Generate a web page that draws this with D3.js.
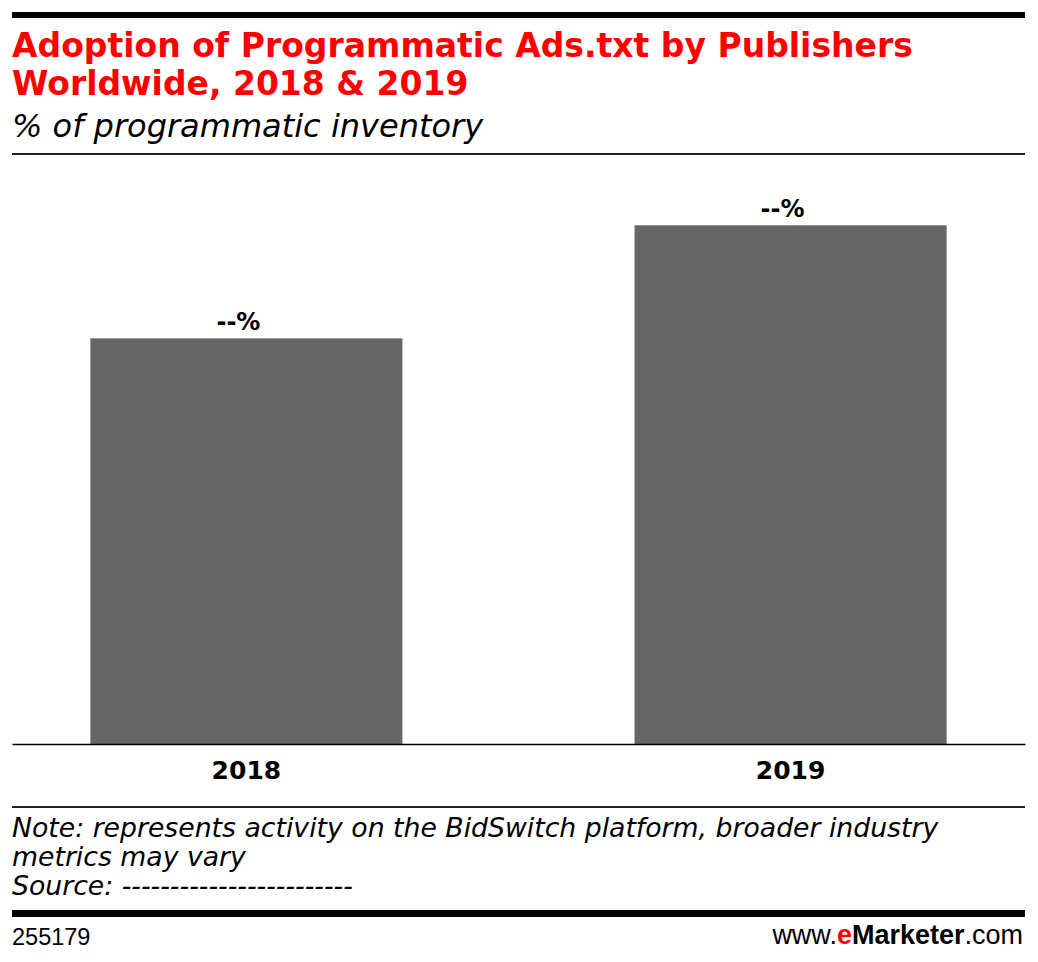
<!DOCTYPE html>
<html>
<head>
    <script src="https://d3js.org/d3.v7.min.js"></script>
    <style>
        body { margin: 0; background: #fff; }
        text { font-family: "DejaVu Sans", sans-serif; }
        .lib { font-family: "Liberation Sans", Arial, sans-serif; }
    </style>
</head>
<body>
    <script>
        const years = ['2018', '2019'];
        const shares = [61, 78];
        const valueLabels = ['--%', '--%'];

        const width = 1038, height = 962;
        const left = 12, right = 1025;
        const baseY = 744;

        const svg = d3.select("body").append("svg")
            .attr("width", width)
            .attr("height", height);

        // header rules
        svg.append("rect").attr("x", left).attr("y", 12).attr("width", right - left).attr("height", 6).attr("fill", "#000");
        svg.append("rect").attr("x", left).attr("y", 153).attr("width", right - left).attr("height", 2).attr("fill", "#222");

        // title
        const title = svg.append("text")
            .attr("x", left)
            .attr("fill", "#ff0000")
            .attr("font-weight", 700)
            .attr("font-size", 33);
        title.append("tspan").attr("x", left).attr("y", 57).text("Adoption of Programmatic Ads.txt by Publishers");
        title.append("tspan").attr("x", left).attr("y", 95).text("Worldwide, 2018 & 2019");

        svg.append("text")
            .attr("x", left).attr("y", 137)
            .attr("font-style", "italic")
            .attr("font-size", 32)
            .text("% of programmatic inventory");

        // scales
        const x = d3.scaleBand()
            .domain(years)
            .range([left, right])
            .paddingInner(0.4265)
            .paddingOuter(0.144);

        const y = d3.scaleLinear()
            .domain([0, 100])
            .range([baseY, baseY - 665]);

        const data = years.map((yr, i) => ({ year: yr, value: shares[i], label: valueLabels[i] }));

        // bars
        svg.selectAll("rect.bar")
            .data(data)
            .enter().append("rect")
            .attr("class", "bar")
            .attr("x", d => x(d.year))
            .attr("y", d => y(d.value))
            .attr("width", x.bandwidth())
            .attr("height", d => baseY - y(d.value))
            .attr("fill", "#666666");

        // value labels (sit a little left of centre, as in the original)
        svg.selectAll("text.val")
            .data(data)
            .enter().append("text")
            .attr("class", "val")
            .attr("x", d => x(d.year) + x.bandwidth() / 2)
            .attr("y", d => y(d.value) - 8)
            .attr("dx", -8)
            .attr("text-anchor", "middle")
            .attr("font-weight", 700)
            .attr("font-size", 24)
            .text(d => d.label);

        // baseline + category axis
        const xAxis = svg.append("g")
            .attr("transform", `translate(0,${baseY})`)
            .call(d3.axisBottom(x).tickSize(0).tickPadding(17));
        xAxis.select(".domain").attr("stroke", "#000").attr("stroke-width", 1.5);
        xAxis.selectAll("text")
            .attr("font-family", "'DejaVu Sans', sans-serif")
            .attr("font-weight", 700)
            .attr("font-size", 25)
            .attr("fill", "#000");

        // footer
        svg.append("rect").attr("x", left).attr("y", 806).attr("width", right - left).attr("height", 2).attr("fill", "#222");

        const note = svg.append("text")
            .attr("font-style", "italic")
            .attr("font-size", 26.7)
            .attr("fill", "#000");
        note.append("tspan").attr("x", left).attr("y", 837).text("Note: represents activity on the BidSwitch platform, broader industry");
        note.append("tspan").attr("x", left).attr("y", 866).text("metrics may vary");
        note.append("tspan").attr("x", left).attr("y", 895).text("Source: ------------------------");

        svg.append("rect").attr("x", left).attr("y", 910).attr("width", right - left).attr("height", 7).attr("fill", "#000");

        svg.append("text")
            .attr("class", "lib")
            .attr("x", left).attr("y", 945)
            .attr("font-size", 23.5)
            .text("255179");

        const brand = svg.append("text")
            .attr("class", "lib")
            .attr("x", right - 2).attr("y", 944)
            .attr("text-anchor", "end")
            .attr("font-size", 27);
        brand.append("tspan").text("www.");
        brand.append("tspan").attr("fill", "#ff0000").attr("font-weight", 700).text("e");
        brand.append("tspan").attr("font-weight", 700).text("Marketer");
        brand.append("tspan").text(".com");
    </script>
</body>
</html>
